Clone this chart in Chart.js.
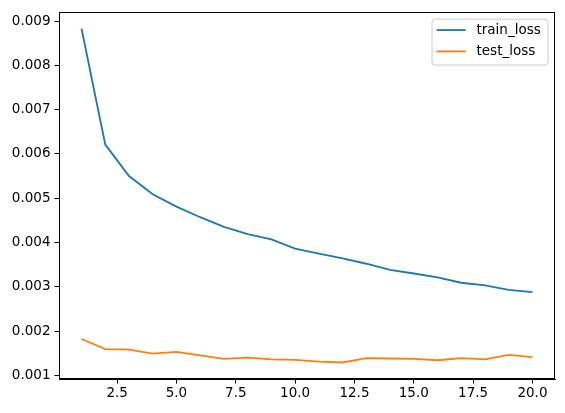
<!DOCTYPE html>
<html>
<head>
<meta charset="utf-8">
<script src="https://cdn.jsdelivr.net/npm/chart.js@4.4.1/dist/chart.umd.min.js"></script>
<style>
html,body{margin:0;padding:0;background:#fff;}
#wrap{width:565px;height:413px;}
</style>
</head>
<body>
<div id="wrap"><canvas id="c" width="565" height="413"></canvas></div>
<script>
const epochs = [1,2,3,4,5,6,7,8,9,10,11,12,13,14,15,16,17,18,19,20];
const trainLoss = [0.00883,0.00621,0.00550,0.00509,0.00481,0.00457,0.00435,0.00419,0.00407,0.00386,0.00375,0.00364,0.00352,0.00338,0.00330,0.00321,0.00309,0.00303,0.00293,0.00288];
const testLoss = [0.00182,0.00159,0.00158,0.00149,0.00153,0.00145,0.00137,0.00140,0.00136,0.00135,0.00131,0.00129,0.00139,0.00138,0.00137,0.00134,0.00139,0.00136,0.00146,0.00141];
const xTicks = [2.5,5.0,7.5,10.0,12.5,15.0,17.5,20.0];
const yTicks = [0.001,0.002,0.003,0.004,0.005,0.006,0.007,0.008,0.009];
const seriesLabels = ['train_loss','test_loss'];
const seriesColors = ['#1f77b4','#ff7f0e'];

const FONT = {family:'"DejaVu Sans"', size:13.5};

const frameAndLegend = {
  id:'frameAndLegend',
  afterDraw(chart){
    const ctx = chart.ctx, a = chart.chartArea;
    ctx.save();
    ctx.strokeStyle = '#000';
    ctx.lineWidth = 1;
    ctx.strokeRect(Math.round(a.left)+0.5, Math.round(a.top)+0.5, Math.round(a.right-a.left)-1, Math.round(a.bottom-a.top)-1);
    // legend
    const bw = 116, bh = 46;
    const bx = a.right - 7 - bw, by = a.top + 7;
    const r = 3;
    ctx.beginPath();
    ctx.moveTo(bx+r,by);
    ctx.lineTo(bx+bw-r,by); ctx.quadraticCurveTo(bx+bw,by,bx+bw,by+r);
    ctx.lineTo(bx+bw,by+bh-r); ctx.quadraticCurveTo(bx+bw,by+bh,bx+bw-r,by+bh);
    ctx.lineTo(bx+r,by+bh); ctx.quadraticCurveTo(bx,by+bh,bx,by+bh-r);
    ctx.lineTo(bx,by+r); ctx.quadraticCurveTo(bx,by,bx+r,by);
    ctx.closePath();
    ctx.fillStyle = 'rgba(255,255,255,0.8)';
    ctx.fill();
    ctx.strokeStyle = '#cccccc';
    ctx.lineWidth = 1;
    ctx.stroke();
    ctx.font = FONT.size + 'px ' + FONT.family;
    ctx.textBaseline = 'middle';
    ctx.textAlign = 'left';
    chart.data.datasets.forEach((ds,i)=>{
      const ly = by + 11 + i*21.3;
      ctx.strokeStyle = ds.borderColor;
      ctx.lineWidth = 1.85;
      ctx.beginPath();
      ctx.moveTo(bx+4.7, ly); ctx.lineTo(bx+33.7, ly);
      ctx.stroke();
      ctx.fillStyle = '#000';
      ctx.fillText(ds.label, bx+44.5, ly);
    });
    ctx.restore();
  }
};

new Chart(document.getElementById('c'), {
  type:'line',
  data:{
    datasets:[
      {label:seriesLabels[0], data:epochs.map((e,i)=>({x:e,y:trainLoss[i]})), borderColor:seriesColors[0], backgroundColor:seriesColors[0], borderWidth:1.85, pointRadius:0, tension:0, fill:false},
      {label:seriesLabels[1], data:epochs.map((e,i)=>({x:e,y:testLoss[i]})), borderColor:seriesColors[1], backgroundColor:seriesColors[1], borderWidth:1.85, pointRadius:0, tension:0, fill:false}
    ]
  },
  options:{
    responsive:false,
    animation:false,
    devicePixelRatio:1,
    layout:{padding:{top:10,right:10,left:0,bottom:0}},
    plugins:{legend:{display:false}, tooltip:{enabled:false}},
    scales:{
      x:{
        type:'linear', min:0.05, max:20.95,
        afterBuildTicks(s){ s.ticks = xTicks.map(v=>({value:v})); },
        afterFit(s){ s.height = 34; },
        grid:{drawOnChartArea:false, drawTicks:true, tickLength:4.5, tickColor:'#000', color:'#000'},
        border:{display:true, color:'#000', width:1},
        ticks:{color:'#000', font:FONT, padding:2, maxRotation:0, autoSkip:false, callback:v=>v.toFixed(1)}
      },
      y:{
        type:'linear', min:0.000917, max:0.009202,
        afterBuildTicks(s){ s.ticks = yTicks.map(v=>({value:v})); },
        afterFit(s){ s.width = 59; },
        grid:{drawOnChartArea:false, drawTicks:true, tickLength:4.5, tickColor:'#000', color:'#000'},
        border:{display:true, color:'#000', width:1},
        ticks:{color:'#000', font:FONT, padding:4, autoSkip:false, callback:v=>v.toFixed(3)}
      }
    }
  },
  plugins:[frameAndLegend]
});
</script>
</body>
</html>
